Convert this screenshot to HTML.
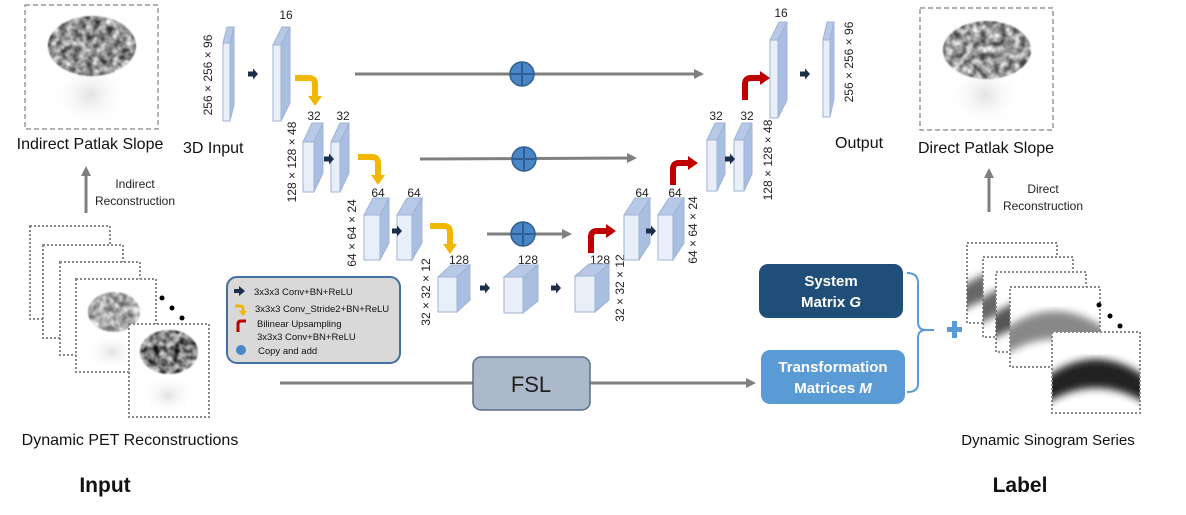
<!DOCTYPE html>
<html><head><meta charset="utf-8"><style>
html,body{margin:0;padding:0;background:#fff;}
svg{display:block;font-family:"Liberation Sans",sans-serif;}
</style></head><body>
<svg id="s" width="1186" height="515" viewBox="0 0 1186 515" xmlns="http://www.w3.org/2000/svg">
<defs>
<radialGradient id="body" cx="50%" cy="50%" r="50%">
<stop offset="0" stop-color="#e2e2e2"/><stop offset="1" stop-color="#fff" stop-opacity="0"/></radialGradient>
<filter id="tex" x="-10%" y="-10%" width="120%" height="120%">
<feTurbulence type="fractalNoise" baseFrequency="0.15" numOctaves="2" seed="3" result="n"/>
<feColorMatrix in="n" type="matrix" values="0 0 0 0 0  0 0 0 0 0  0 0 0 0 0  0 0 0 -1.6 1.35" result="a"/>
<feComposite in="SourceGraphic" in2="a" operator="in" result="c"/>
<feGaussianBlur in="c" stdDeviation="0.8"/>
</filter>
<filter id="bl"><feGaussianBlur stdDeviation="4"/></filter>
<clipPath id="c1"><rect x="967" y="243" width="90" height="80"/></clipPath>
<clipPath id="c2"><rect x="983" y="257" width="90" height="80"/></clipPath>
<clipPath id="c3"><rect x="996" y="272" width="90" height="80"/></clipPath>
<clipPath id="c4"><rect x="1010" y="287" width="90" height="80"/></clipPath>
<clipPath id="c5"><rect x="1052" y="332" width="88" height="81"/></clipPath>
<marker id="ga" markerWidth="10" markerHeight="10" refX="6" refY="5" orient="auto" markerUnits="userSpaceOnUse"><path d="M0,0 L10,5 L0,10 Z" fill="#7f7f7f"/></marker>
</defs>

<!-- Indirect Patlak -->
<rect x="25" y="5" width="133" height="124" fill="#fff" stroke="#666" stroke-dasharray="5,3"/>
<ellipse cx="90" cy="95" rx="38" ry="34" fill="url(#body)"/>
<ellipse cx="92" cy="46" rx="44" ry="30" fill="#333" filter="url(#tex)"/>
<text x="90" y="149" font-size="16" text-anchor="middle" fill="#111">Indirect Patlak Slope</text>
<line x1="86" y1="213" x2="86" y2="170" stroke="#7f7f7f" stroke-width="3" marker-end="url(#ga)"/>
<text x="135" y="188" font-size="12" text-anchor="middle" fill="#222">Indirect</text>
<text x="135" y="205" font-size="12" text-anchor="middle" fill="#222">Reconstruction</text>

<!-- PET stack -->
<g stroke="#888" stroke-width="2" stroke-dasharray="2,2" fill="#fff">
<rect x="30" y="226" width="80" height="93"/>
<rect x="43" y="245" width="80" height="93"/>
<rect x="60" y="262" width="80" height="93"/>
<rect x="76" y="279" width="80" height="93"/>
</g>
<ellipse cx="112" cy="352" rx="26" ry="18" fill="url(#body)"/>
<ellipse cx="114" cy="312" rx="26" ry="20" fill="#666" filter="url(#tex)"/>
<rect x="129" y="324" width="80" height="93" fill="#fff" stroke="#888" stroke-width="2" stroke-dasharray="2,2"/>
<ellipse cx="168" cy="395" rx="28" ry="20" fill="url(#body)"/>
<ellipse cx="169" cy="352" rx="29" ry="22" fill="#111" filter="url(#tex)"/>
<circle cx="162" cy="298" r="2.5" fill="#000"/><circle cx="172" cy="308" r="2.5" fill="#000"/><circle cx="182" cy="318" r="2.5" fill="#000"/>
<text x="130" y="445" font-size="16" text-anchor="middle" fill="#111">Dynamic PET Reconstructions</text>
<text x="105" y="492" font-size="21" font-weight="bold" text-anchor="middle" fill="#111">Input</text>

<!-- dims -->
<g font-size="12" fill="#222" text-anchor="middle">
<text transform="translate(212,75) rotate(-90)">256 × 256 × 96</text>
<text transform="translate(296,162) rotate(-90)">128 × 128 × 48</text>
<text transform="translate(356,233) rotate(-90)">64 × 64 × 24</text>
<text transform="translate(430,292) rotate(-90)">32 × 32 × 12</text>
<text transform="translate(624,288) rotate(-90)">32 × 32 × 12</text>
<text transform="translate(697,230) rotate(-90)">64 × 64 × 24</text>
<text transform="translate(772,160) rotate(-90)">128 × 128 × 48</text>
<text transform="translate(853,62) rotate(-90)">256 × 256 × 96</text>
<text x="286" y="19">16</text>
<text x="314" y="120">32</text><text x="343" y="120">32</text>
<text x="378" y="197">64</text><text x="414" y="197">64</text>
<text x="459" y="264">128</text><text x="528" y="264">128</text><text x="600" y="264">128</text>
<text x="642" y="197">64</text><text x="675" y="197">64</text>
<text x="716" y="120">32</text><text x="747" y="120">32</text>
<text x="781" y="17">16</text>
</g>
<text x="183" y="153" font-size="16" fill="#111">3D Input</text>
<text x="835" y="148" font-size="16" fill="#111">Output</text>

<!-- skips -->
<g stroke="#7f7f7f" stroke-width="3">
<line x1="355" y1="74" x2="700" y2="74" marker-end="url(#ga)"/>
<line x1="420" y1="159" x2="633" y2="158" marker-end="url(#ga)"/>
<line x1="487" y1="234" x2="568" y2="234" marker-end="url(#ga)"/>
</g>
<g fill="#4a86c5" stroke="#2e5f94" stroke-width="1.5">
<circle cx="522" cy="74" r="12"/><circle cx="524" cy="159" r="12"/><circle cx="523" cy="234" r="12"/>
</g>
<g stroke="#2e5f94" stroke-width="2">
<line x1="510" y1="74" x2="534" y2="74"/><line x1="522" y1="62" x2="522" y2="86"/>
<line x1="512" y1="159" x2="536" y2="159"/><line x1="524" y1="147" x2="524" y2="171"/>
<line x1="511" y1="234" x2="535" y2="234"/><line x1="523" y1="222" x2="523" y2="246"/>
</g>

<g id="blocks"></g>

<!-- legend -->
<rect x="227" y="277" width="173" height="86" rx="10" fill="#d9d9d9" stroke="#41719c" stroke-width="2"/>
<g font-size="9.5" fill="#111">
<text x="254" y="295">3x3x3 Conv+BN+ReLU</text>
<text x="255" y="312">3x3x3 Conv_Stride2+BN+ReLU</text>
<text x="257" y="327">Bilinear Upsampling</text>
<text x="257" y="340">3x3x3 Conv+BN+ReLU</text>
<text x="258" y="354">Copy and add</text>
</g>
<path d="M234,289 h5 v-3 l6,5 l-6,5 v-3 h-5 Z" fill="#1b2f4a"/>
<path d="M235,306 h5 q3,0 3,3 v3" fill="none" stroke="#f2b705" stroke-width="3"/>
<polygon points="239,311 247,311 243,316" fill="#f2b705"/>
<path d="M238,332 v-8 q0,-3 3,-3 h5" fill="none" stroke="#c00000" stroke-width="3"/>
<circle cx="241" cy="350" r="5" fill="#4a86c5"/>

<!-- FSL -->
<line x1="280" y1="383" x2="473" y2="383" stroke="#7f7f7f" stroke-width="3"/>
<line x1="590" y1="383" x2="752" y2="383" stroke="#7f7f7f" stroke-width="3" marker-end="url(#ga)"/>
<rect x="473" y="357" width="117" height="53" rx="8" fill="#acb9ca" stroke="#596f8a" stroke-width="1.5"/>
<text x="531" y="392" font-size="22" text-anchor="middle" fill="#222">FSL</text>

<rect x="759" y="264" width="144" height="54" rx="9" fill="#1f4e79"/>
<text x="831" y="286" font-size="15" font-weight="bold" fill="#fff" text-anchor="middle">System</text>
<text x="831" y="307" font-size="15" font-weight="bold" fill="#fff" text-anchor="middle">Matrix <tspan font-style="italic">G</tspan></text>
<rect x="761" y="350" width="144" height="54" rx="9" fill="#5b9bd5"/>
<text x="833" y="372" font-size="15" font-weight="bold" fill="#fff" text-anchor="middle">Transformation</text>
<text x="833" y="393" font-size="15" font-weight="bold" fill="#fff" text-anchor="middle">Matrices <tspan font-style="italic">M</tspan></text>
<path d="M907,273 Q918,273 918,283 L918,322 Q918,330 926,330 Q918,330 918,338 L918,384 Q918,392 907,392" fill="none" stroke="#5b9bd5" stroke-width="2"/>
<line x1="922" y1="330" x2="934" y2="330" stroke="#5b9bd5" stroke-width="2"/>
<path d="M947,327 h5 v-6 h5 v6 h5 v5 h-5 v6 h-5 v-6 h-5 Z" fill="#5b9bd5"/>

<!-- sinograms -->
<g stroke="#888" stroke-width="2" stroke-dasharray="2,2">
<rect x="967" y="243" width="90" height="80" fill="#fff"/>
<g clip-path="url(#c1)"><path d="M960,288 Q1012,250 1064,288 L1064,312 Q1012,280 960,312 Z" fill="#666" stroke="none" filter="url(#bl)"/></g>
<rect x="983" y="257" width="90" height="80" fill="#fff"/>
<g clip-path="url(#c2)"><path d="M976,302 Q1028,264 1080,302 L1080,326 Q1028,294 976,326 Z" fill="#666" stroke="none" filter="url(#bl)"/></g>
<rect x="996" y="272" width="90" height="80" fill="#fff"/>
<g clip-path="url(#c3)"><path d="M989,317 Q1041,279 1093,317 L1093,341 Q1041,309 989,341 Z" fill="#555" stroke="none" filter="url(#bl)"/></g>
<rect x="1010" y="287" width="90" height="80" fill="#fff"/>
<g clip-path="url(#c4)"><path d="M1003,330 Q1055,292 1107,330 L1107,356 Q1055,322 1003,356 Z" fill="#888" stroke="none" filter="url(#bl)"/></g>
<rect x="1052" y="332" width="88" height="81" fill="#fff"/>
<g clip-path="url(#c5)"><path d="M1045,378 Q1096,340 1147,378 L1147,404 Q1096,372 1045,404 Z" fill="#222" stroke="none" filter="url(#bl)"/></g>
<rect x="1052" y="332" width="88" height="81" fill="none"/>
</g>
<circle cx="1099" cy="305" r="2.5" fill="#000"/><circle cx="1110" cy="316" r="2.5" fill="#000"/><circle cx="1120" cy="326" r="2.5" fill="#000"/>
<text x="1048" y="445" font-size="15" text-anchor="middle" fill="#111">Dynamic Sinogram Series</text>
<text x="1020" y="492" font-size="21" font-weight="bold" text-anchor="middle" fill="#111">Label</text>

<!-- Direct Patlak -->
<rect x="920" y="8" width="133" height="122" fill="#fff" stroke="#666" stroke-dasharray="5,3"/>
<ellipse cx="985" cy="95" rx="36" ry="34" fill="url(#body)"/>
<ellipse cx="987" cy="50" rx="44" ry="29" fill="#444" filter="url(#tex)"/>
<text x="986" y="153" font-size="16" text-anchor="middle" fill="#111">Direct Patlak Slope</text>
<line x1="989" y1="212" x2="989" y2="172" stroke="#7f7f7f" stroke-width="3" marker-end="url(#ga)"/>
<text x="1043" y="193" font-size="12" text-anchor="middle" fill="#222">Direct</text>
<text x="1043" y="210" font-size="12" text-anchor="middle" fill="#222">Reconstruction</text>
</svg>
<script>
var NS="http://www.w3.org/2000/svg",g=document.getElementById("blocks");
function el(t,a){var e=document.createElementNS(NS,t);for(var k in a)e.setAttribute(k,a[k]);g.appendChild(e);return e;}
var B=[[223,43,7,78,4,16],[273,45,8,76,9,18],[303,142,11,50,9,19],[331,142,9,50,9,19],[364,215,16,45,9,17],[397,215,15,45,10,17],[438,277,19,35,13,12],[504,277,19,36,15,12],[575,276,20,36,14,12],[624,215,15,45,11,17],[658,215,15,45,11,17],[707,140,10,51,8,17],[734,140,10,51,8,17],[770,40,8,78,9,18],[823,40,7,77,4,18]];
B.forEach(function(b){var x=b[0],y=b[1],w=b[2],h=b[3],dx=b[4],dy=b[5];
el("rect",{x:x,y:y,width:w,height:h,fill:"#e9eff9",stroke:"#9fb3d4","stroke-width":1});
el("polygon",{points:[x,y,x+dx,y-dy,x+w+dx,y-dy,x+w,y].join(" "),fill:"#b7c9e6",stroke:"#9fb3d4","stroke-width":1});
el("polygon",{points:[x+w,y,x+w+dx,y-dy,x+w+dx,y+h-dy,x+w,y+h].join(" "),fill:"#a9bfe2",stroke:"#9fb3d4","stroke-width":1});});
function da(x,y,s){s=s||1;el("path",{d:"M"+x+","+(y-2.5*s)+" h"+(5*s)+" v"+(-3*s)+" l"+(5*s)+","+(5.5*s)+" l"+(-5*s)+","+(5.5*s)+" v"+(-3*s)+" h"+(-5*s)+"Z",fill:"#1b2f4a"});}
[[248,74],[324,159],[392,231],[480,288],[551,288],[646,231],[725,159],[800,74]].forEach(function(p){da(p[0],p[1]);});
function ya(x,y,c){el("path",{d:"M"+x+","+y+" h14 q6,0 6,6 v14",fill:"none",stroke:c,"stroke-width":6});el("polygon",{points:[x+13,y+18,x+27,y+18,x+20,y+28].join(" "),fill:c});}
function ra(x,y,c){el("path",{d:"M"+x+","+y+" v-16 q0,-6 6,-6 h10",fill:"none",stroke:c,"stroke-width":6});el("polygon",{points:[x+15,y-29,x+15,y-15,x+25,y-22].join(" "),fill:c});}
ya(295,78,"#f2b705");ya(358,157,"#f2b705");ya(430,226,"#f2b705");
ra(591,253,"#c00000");ra(673,185,"#c00000");ra(745,100,"#c00000");
</script>
</body></html>
